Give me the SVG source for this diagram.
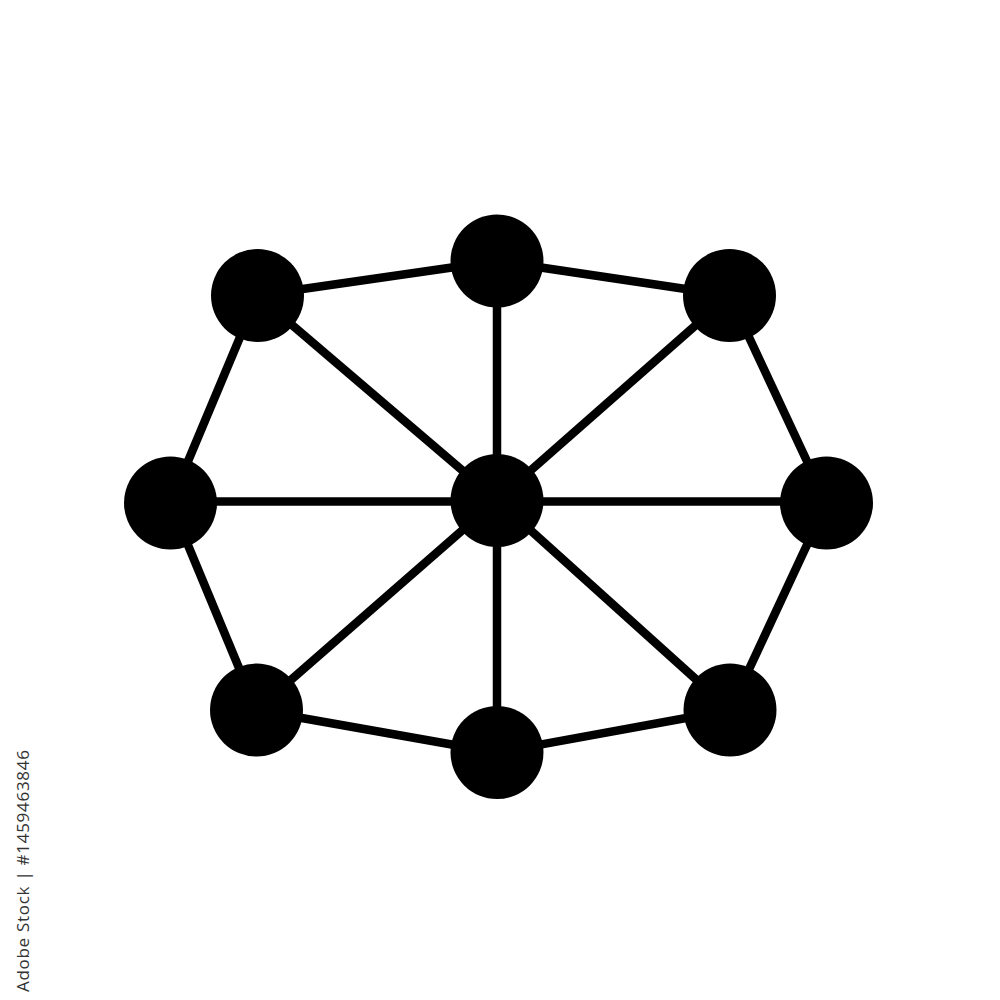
<svg xmlns="http://www.w3.org/2000/svg" width="1000" height="1000" viewBox="0 0 1000 1000">
  <style>
    .edge { stroke: #000; stroke-width: 8.5; stroke-linecap: butt; fill: none; }
    .node { fill: #000; }
    .credit { font-family: "Open Sans", "Liberation Sans", sans-serif; font-size: 17px; fill: #333; }
  </style>
  <rect width="1000" height="1000" fill="#fff"/>
  <g id="connectors">
    <!-- spokes -->
    <line class="edge" x1="497" y1="500" x2="497" y2="261"/>
    <line class="edge" x1="497" y1="500" x2="729.5" y2="295.5"/>
    <line class="edge" x1="497" y1="501.5" x2="826.5" y2="501.5"/>
    <line class="edge" x1="497" y1="500" x2="730" y2="710"/>
    <line class="edge" x1="497" y1="500" x2="497" y2="752.5"/>
    <line class="edge" x1="497" y1="500" x2="256.5" y2="710"/>
    <line class="edge" x1="497" y1="501.5" x2="170.5" y2="501.5"/>
    <line class="edge" x1="497" y1="500" x2="257.5" y2="295.5"/>
    <!-- ring -->
    <line class="edge" x1="257.5" y1="295.5" x2="497" y2="261"/>
    <line class="edge" x1="497" y1="261" x2="729.5" y2="295.5"/>
    <line class="edge" x1="729.5" y1="295.5" x2="826.5" y2="503"/>
    <line class="edge" x1="826.5" y1="503" x2="730" y2="710"/>
    <line class="edge" x1="730" y1="710" x2="497" y2="752.5"/>
    <line class="edge" x1="497" y1="752.5" x2="256.5" y2="710"/>
    <line class="edge" x1="256.5" y1="710" x2="170.5" y2="503"/>
    <line class="edge" x1="170.5" y1="503" x2="257.5" y2="295.5"/>
  </g>
  <g id="node-center"><circle class="node" cx="497" cy="500.5" r="46.5"/></g>
  <g id="node-top"><circle class="node" cx="497" cy="261" r="46.5"/></g>
  <g id="node-top-right"><circle class="node" cx="729.5" cy="295.5" r="46.5"/></g>
  <g id="node-right"><circle class="node" cx="826.5" cy="503" r="46.5"/></g>
  <g id="node-bottom-right"><circle class="node" cx="730" cy="710" r="46.5"/></g>
  <g id="node-bottom"><circle class="node" cx="497" cy="752.5" r="46.5"/></g>
  <g id="node-bottom-left"><circle class="node" cx="256.5" cy="710" r="46.5"/></g>
  <g id="node-left"><circle class="node" cx="170.5" cy="503" r="46.5"/></g>
  <g id="node-top-left"><circle class="node" cx="257.5" cy="295.5" r="46.5"/></g>
  <text class="credit" transform="translate(28.5,992) rotate(-90)" textLength="242" lengthAdjust="spacing">Adobe Stock | #1459463846</text>
</svg>
